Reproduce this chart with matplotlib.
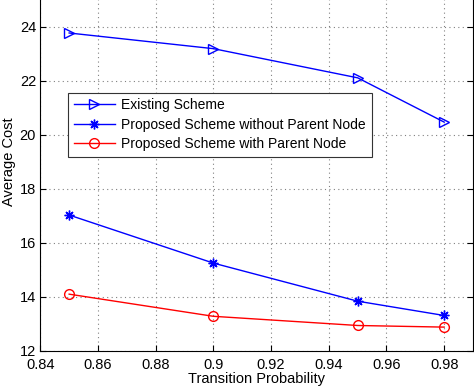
import matplotlib
matplotlib.use("Agg")
import matplotlib.pyplot as plt

# data
transition_prob = [0.85, 0.90, 0.95, 0.98]
existing_scheme = [23.77, 23.19, 22.11, 20.47]
proposed_without_parent = [17.03, 15.25, 13.84, 13.31]
proposed_with_parent = [14.10, 13.28, 12.94, 12.88]

x_ticks = [0.84, 0.86, 0.88, 0.9, 0.92, 0.94, 0.96, 0.98]
x_tick_labels = ["0.84", "0.86", "0.88", "0.9", "0.92", "0.94", "0.96", "0.98"]
y_ticks = [12, 14, 16, 18, 20, 22, 24]

plt.rcParams["font.family"] = ["Liberation Sans", "DejaVu Sans"]

fig = plt.figure(figsize=(4.74, 3.89), dpi=100)
# axes top runs off the figure, as in the cropped reference
ax = fig.add_axes([0.085, 0.098, 0.913, 0.972])

ax.plot(transition_prob, existing_scheme, color="blue", marker=">", markersize=7,
        markerfacecolor="none", markeredgewidth=1, linewidth=1, label="Existing Scheme")
ax.plot(transition_prob, proposed_without_parent, color="blue", marker=(8, 2, 0), markersize=7,
        markeredgewidth=1, linewidth=1, label="Proposed Scheme without Parent Node")
ax.plot(transition_prob, proposed_with_parent, color="red", marker="o", markersize=7,
        markerfacecolor="none", markeredgewidth=1, linewidth=1, label="Proposed Scheme with Parent Node")

ax.set_xlim(0.84, 0.99)
ax.set_ylim(12, 26)
ax.set_xticks(x_ticks)
ax.set_xticklabels(x_tick_labels)
ax.set_yticks(y_ticks)
ax.tick_params(direction="in", top=True, right=True, labelsize=10.5, length=4, pad=3)
ax.tick_params(axis="x", pad=5)
ax.grid(True, linestyle=(0, (1, 3)), color="gray", linewidth=0.8)

ax.set_xlabel("Transition Probability", fontsize=10.5, labelpad=0)
ax.set_ylabel("Average Cost", fontsize=10.5, labelpad=3)

leg = ax.legend(loc="upper left", bbox_to_anchor=(0.064, 0.683), fontsize=10,
                frameon=True, fancybox=False, edgecolor="#333333", framealpha=1,
                handlelength=3.0, handletextpad=0.45, borderpad=0.4, labelspacing=0.4,
                borderaxespad=0)
leg.get_frame().set_linewidth(0.8)

plt.savefig("out.png", dpi=100)
plt.close()
